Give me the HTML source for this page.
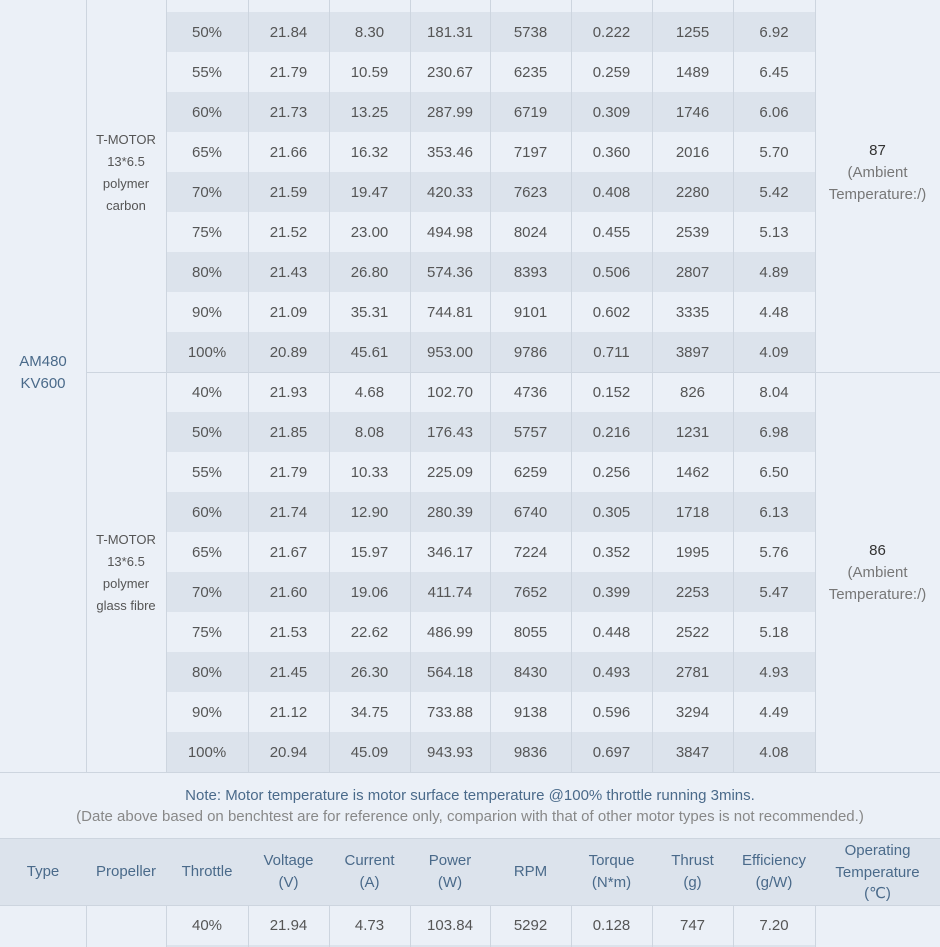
<!DOCTYPE html>
<html><head><meta charset="utf-8"><style>
*{margin:0;padding:0;box-sizing:border-box}
html,body{width:940px;height:947px;overflow:hidden}
body{background:#ebf0f7;font-family:"Liberation Sans","DejaVu Sans",sans-serif;position:relative;color:#555}
.r{position:absolute;left:166px;width:649px;height:40px;display:flex;font-size:15px;line-height:42px}
.r div{text-align:center}
.d{background:#dce3ec}
.c1{width:82px}.c2{width:81px}.c3{width:81px}.c4{width:80px}.c5{width:81px}.c6{width:81px}.c7{width:81px}.c8{width:82px}
.v{position:absolute;width:1px;background:#cdd5df}
.h{position:absolute;height:1px;background:#cdd5df}
.t{position:absolute;text-align:center;color:#4a6a8a}
</style></head><body>
<div class="r d" style="top:12px"><div class="c1">50%</div><div class="c2">21.84</div><div class="c3">8.30</div><div class="c4">181.31</div><div class="c5">5738</div><div class="c6">0.222</div><div class="c7">1255</div><div class="c8">6.92</div></div>
<div class="r" style="top:52px"><div class="c1">55%</div><div class="c2">21.79</div><div class="c3">10.59</div><div class="c4">230.67</div><div class="c5">6235</div><div class="c6">0.259</div><div class="c7">1489</div><div class="c8">6.45</div></div>
<div class="r d" style="top:92px"><div class="c1">60%</div><div class="c2">21.73</div><div class="c3">13.25</div><div class="c4">287.99</div><div class="c5">6719</div><div class="c6">0.309</div><div class="c7">1746</div><div class="c8">6.06</div></div>
<div class="r" style="top:132px"><div class="c1">65%</div><div class="c2">21.66</div><div class="c3">16.32</div><div class="c4">353.46</div><div class="c5">7197</div><div class="c6">0.360</div><div class="c7">2016</div><div class="c8">5.70</div></div>
<div class="r d" style="top:172px"><div class="c1">70%</div><div class="c2">21.59</div><div class="c3">19.47</div><div class="c4">420.33</div><div class="c5">7623</div><div class="c6">0.408</div><div class="c7">2280</div><div class="c8">5.42</div></div>
<div class="r" style="top:212px"><div class="c1">75%</div><div class="c2">21.52</div><div class="c3">23.00</div><div class="c4">494.98</div><div class="c5">8024</div><div class="c6">0.455</div><div class="c7">2539</div><div class="c8">5.13</div></div>
<div class="r d" style="top:252px"><div class="c1">80%</div><div class="c2">21.43</div><div class="c3">26.80</div><div class="c4">574.36</div><div class="c5">8393</div><div class="c6">0.506</div><div class="c7">2807</div><div class="c8">4.89</div></div>
<div class="r" style="top:292px"><div class="c1">90%</div><div class="c2">21.09</div><div class="c3">35.31</div><div class="c4">744.81</div><div class="c5">9101</div><div class="c6">0.602</div><div class="c7">3335</div><div class="c8">4.48</div></div>
<div class="r d" style="top:332px"><div class="c1">100%</div><div class="c2">20.89</div><div class="c3">45.61</div><div class="c4">953.00</div><div class="c5">9786</div><div class="c6">0.711</div><div class="c7">3897</div><div class="c8">4.09</div></div>
<div class="r" style="top:372px"><div class="c1">40%</div><div class="c2">21.93</div><div class="c3">4.68</div><div class="c4">102.70</div><div class="c5">4736</div><div class="c6">0.152</div><div class="c7">826</div><div class="c8">8.04</div></div>
<div class="r d" style="top:412px"><div class="c1">50%</div><div class="c2">21.85</div><div class="c3">8.08</div><div class="c4">176.43</div><div class="c5">5757</div><div class="c6">0.216</div><div class="c7">1231</div><div class="c8">6.98</div></div>
<div class="r" style="top:452px"><div class="c1">55%</div><div class="c2">21.79</div><div class="c3">10.33</div><div class="c4">225.09</div><div class="c5">6259</div><div class="c6">0.256</div><div class="c7">1462</div><div class="c8">6.50</div></div>
<div class="r d" style="top:492px"><div class="c1">60%</div><div class="c2">21.74</div><div class="c3">12.90</div><div class="c4">280.39</div><div class="c5">6740</div><div class="c6">0.305</div><div class="c7">1718</div><div class="c8">6.13</div></div>
<div class="r" style="top:532px"><div class="c1">65%</div><div class="c2">21.67</div><div class="c3">15.97</div><div class="c4">346.17</div><div class="c5">7224</div><div class="c6">0.352</div><div class="c7">1995</div><div class="c8">5.76</div></div>
<div class="r d" style="top:572px"><div class="c1">70%</div><div class="c2">21.60</div><div class="c3">19.06</div><div class="c4">411.74</div><div class="c5">7652</div><div class="c6">0.399</div><div class="c7">2253</div><div class="c8">5.47</div></div>
<div class="r" style="top:612px"><div class="c1">75%</div><div class="c2">21.53</div><div class="c3">22.62</div><div class="c4">486.99</div><div class="c5">8055</div><div class="c6">0.448</div><div class="c7">2522</div><div class="c8">5.18</div></div>
<div class="r d" style="top:652px"><div class="c1">80%</div><div class="c2">21.45</div><div class="c3">26.30</div><div class="c4">564.18</div><div class="c5">8430</div><div class="c6">0.493</div><div class="c7">2781</div><div class="c8">4.93</div></div>
<div class="r" style="top:692px"><div class="c1">90%</div><div class="c2">21.12</div><div class="c3">34.75</div><div class="c4">733.88</div><div class="c5">9138</div><div class="c6">0.596</div><div class="c7">3294</div><div class="c8">4.49</div></div>
<div class="r d" style="top:732px"><div class="c1">100%</div><div class="c2">20.94</div><div class="c3">45.09</div><div class="c4">943.93</div><div class="c5">9836</div><div class="c6">0.697</div><div class="c7">3847</div><div class="c8">4.08</div></div>

<div style="position:absolute;left:0;top:838px;width:940px;height:67px;background:#dce3ec"></div>
<div class="r" style="top:905px"><div class="c1">40%</div><div class="c2">21.94</div><div class="c3">4.73</div><div class="c4">103.84</div><div class="c5">5292</div><div class="c6">0.128</div><div class="c7">747</div><div class="c8">7.20</div></div>
<div style="position:absolute;left:166px;top:945px;width:649px;height:2px;background:#dce3ec"></div>

<div class="v" style="left:86px;top:0;height:772px"></div>
<div class="v" style="left:166px;top:0;height:772px"></div>
<div class="v" style="left:248px;top:0;height:772px"></div>
<div class="v" style="left:329px;top:0;height:772px"></div>
<div class="v" style="left:410px;top:0;height:772px"></div>
<div class="v" style="left:490px;top:0;height:772px"></div>
<div class="v" style="left:571px;top:0;height:772px"></div>
<div class="v" style="left:652px;top:0;height:772px"></div>
<div class="v" style="left:733px;top:0;height:772px"></div>
<div class="v" style="left:815px;top:0;height:772px"></div>
<div class="v" style="left:86px;top:905px;height:42px"></div>
<div class="v" style="left:166px;top:905px;height:42px"></div>
<div class="v" style="left:248px;top:905px;height:42px"></div>
<div class="v" style="left:329px;top:905px;height:42px"></div>
<div class="v" style="left:410px;top:905px;height:42px"></div>
<div class="v" style="left:490px;top:905px;height:42px"></div>
<div class="v" style="left:571px;top:905px;height:42px"></div>
<div class="v" style="left:652px;top:905px;height:42px"></div>
<div class="v" style="left:733px;top:905px;height:42px"></div>
<div class="v" style="left:815px;top:905px;height:42px"></div>
<div class="h" style="left:86px;top:372px;width:854px"></div>
<div class="h" style="left:0;top:772px;width:940px"></div>
<div class="h" style="left:0;top:838px;width:940px"></div>
<div class="h" style="left:0;top:905px;width:940px"></div>

<div class="t" style="left:0;width:86px;top:351px;font-size:15px;line-height:22px">AM480<br>KV600</div>
<div class="t" style="left:86px;width:80px;top:129px;font-size:13px;line-height:22px;color:#555">T-MOTOR<br>13*6.5<br>polymer<br>carbon</div>
<div class="t" style="left:86px;width:80px;top:529px;font-size:13px;line-height:22px;color:#555">T-MOTOR<br>13*6.5<br>polymer<br>glass fibre</div>
<div class="t" style="left:815px;width:125px;top:140px;font-size:15px;line-height:22px;color:#777"><span style="color:#333">87</span><br>(Ambient<br>Temperature:/)</div>
<div class="t" style="left:815px;width:125px;top:540px;font-size:15px;line-height:22px;color:#777"><span style="color:#333">86</span><br>(Ambient<br>Temperature:/)</div>

<div class="t" style="left:0;width:940px;top:785px;font-size:15px;line-height:22px">Note: Motor temperature is motor surface temperature @100% throttle running 3mins.</div>
<div class="t" style="left:0;width:940px;top:806px;font-size:15px;line-height:22px;color:#888">(Date above based on benchtest are for reference only, comparion with that of other motor types is not recommended.)</div>

<div class="t" style="left:0;width:86px;top:861px;font-size:15px;line-height:22px">Type</div>
<div class="t" style="left:86px;width:80px;top:861px;font-size:15px;line-height:22px">Propeller</div>
<div class="t" style="left:166px;width:82px;top:861px;font-size:15px;line-height:22px">Throttle</div>
<div class="t" style="left:248px;width:81px;top:850px;font-size:15px;line-height:22px">Voltage<br>(V)</div>
<div class="t" style="left:329px;width:81px;top:850px;font-size:15px;line-height:22px">Current<br>(A)</div>
<div class="t" style="left:410px;width:80px;top:850px;font-size:15px;line-height:22px">Power<br>(W)</div>
<div class="t" style="left:490px;width:81px;top:861px;font-size:15px;line-height:22px">RPM</div>
<div class="t" style="left:571px;width:81px;top:850px;font-size:15px;line-height:22px">Torque<br>(N*m)</div>
<div class="t" style="left:652px;width:81px;top:850px;font-size:15px;line-height:22px">Thrust<br>(g)</div>
<div class="t" style="left:733px;width:82px;top:850px;font-size:15px;line-height:22px">Efficiency<br>(g/W)</div>
<div class="t" style="left:815px;width:125px;top:840px;font-size:15px;line-height:21.5px">Operating<br>Temperature<br>(℃)</div>
</body></html>
